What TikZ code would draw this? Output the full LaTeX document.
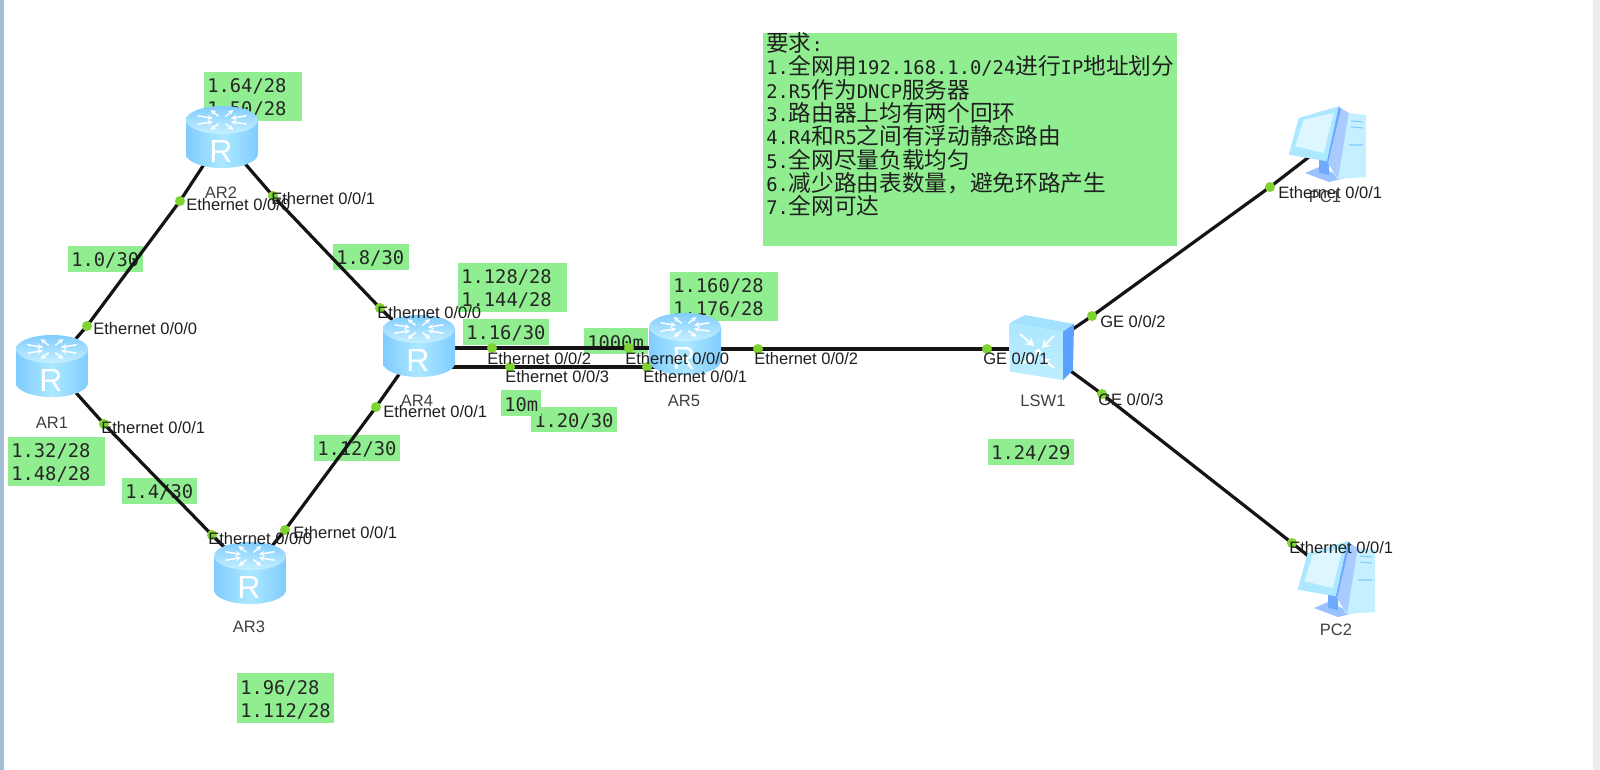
\documentclass[tikz,border=0pt]{standalone}
\usepackage{fontspec}
\usetikzlibrary{arrows.meta}
\setmainfont{Liberation Sans}
\newfontfamily\cjkf{Noto Sans CJK SC}
\newfontfamily\monof{DejaVu Sans Mono}
\newlength\pxu \setlength\pxu{0.75pt}
\definecolor{boxgreen}{HTML}{90EE90}
\definecolor{dotgreen}{HTML}{7FD332}
\definecolor{rlight}{HTML}{ACE8FF}
\definecolor{rmid}{HTML}{80CCFF}
\definecolor{rpale}{HTML}{C6F0FF}
\definecolor{pcblue}{HTML}{6FA8FF}
\definecolor{swside}{HTML}{5AA2FF}
\definecolor{leftbar}{HTML}{A3BFD8}
\pgfdeclarelayer{ground}
\pgfdeclarelayer{boxes}
\pgfdeclarelayer{links}
\pgfdeclarelayer{labels}
\pgfsetlayers{ground,boxes,links,main,labels}
% name, x, y
\newcommand\routerdev[3]{%
  \node[deviceanchor] (#1) at (#2,#3) {};
  \begin{scope}[shift={(#1.center)}]
    \path[left color=rmid,right color=rmid,middle color=rlight]
      (-36,-17) -- (-36,17) arc[start angle=180,end angle=0,x radius=36,y radius=14] -- (36,-17) -- cycle;
    \path[top color=rmid,bottom color=rpale]
      (0,-17) ellipse[x radius=36,y radius=14];
    \foreach \a in {25,155,205,335}
      \draw[white,line width=1.1pt,{Stealth[length=4pt,width=4pt]}-]
        ({cos(\a)*10},{-17+sin(\a)*4}) -- ({cos(\a)*27},{-17+sin(\a)*10});
    \foreach \a in {65,115,245,295}
      \draw[white,line width=1.1pt,-{Stealth[length=4pt,width=4pt]}]
        ({cos(\a)*8},{-17+sin(\a)*4}) -- ({cos(\a)*27},{-17+sin(\a)*11});
    \node[routerletter] (#1r) at (-1,14) {R};
  \end{scope}}
\newcommand\switchdev[3]{%
  \node[deviceanchor] (#1) at (#2,#3) {};
  \begin{scope}[shift={(#1.center)}]
    \fill[rlight!80!rmid] (-32.7,-26.7) -- (-17,-35) -- (32,-26) -- (21,-18.3) -- cycle;
    \path[top color=rlight,bottom color=rpale!70!rlight] (-32.7,-26.7) -- (21,-18.3) -- (21,30) -- (-32,21.7) -- cycle;
    \fill[swside] (21,-18.3) -- (32,-26) -- (31,20) -- (21,30) -- cycle;
    \foreach \x/\y/\tx/\ty in {-22/-16/-8/-4, 12/-14/0/-2, -20/14/-8/6, 12/18/0/8}
      \draw[white,line width=1.5pt,-{Stealth[length=6pt,width=7pt]}] (\x,\y) -- (\tx,\ty);
    \fill[white] (-4,2) circle[radius=3];
  \end{scope}}
\newcommand\pcdev[3]{%
  \node[deviceanchor] (#1) at (#2,#3) {};
  \begin{scope}[shift={(#1.center)}]
    \fill[pcblue!70!white] (-22,30) -- (-8,24) -- (18,35) -- (2,39) -- cycle;
    \fill[pcblue] (-8,15) -- (2,15) -- (2,32) -- (-8,30) -- cycle;
    \fill[rpale] (21.7,-30) -- (39,-28) -- (39,34) -- (10,36) -- (0,18) -- cycle;
    \fill[pcblue!60!white] (12,-36) -- (21.7,-30) -- (11,36) -- (0,18) -- cycle;
    \draw[rmid,line width=0.8pt] (24,-22) -- (36,-21) (24,-16) -- (36,-15) (22,2) -- (36,2);
    \fill[rlight] (-28.3,-25) -- (11.7,-36.7) -- (0,18.3) -- (-38.3,11.7) -- cycle;
    \fill[pcblue] (11.7,-36.7) -- (14,-34) -- (1,20) -- (0,18.3) -- cycle;
    \fill[rpale!60!white] (-23.3,-23.3) -- (6.7,-30) -- (-3.3,10) -- (-31.7,3.3) -- cycle;
  \end{scope}}
\tikzset{
  deviceanchor/.style={rectangle,inner sep=0pt,minimum size=1pt},
  routerletter/.style={inner sep=0pt,text=white,font=\fontsize{24}{24}\selectfont},
  link/.style={draw=black!92,line width=2.4pt,line join=round},
  ipbox/.style 2 args={rectangle,fill=boxgreen,anchor=north west,align=left,inner ysep=0pt,inner xsep=3\pxu,
    text width=#1\pxu,minimum height=#2\pxu,text=black!85,font=\monof\fontsize{14.1}{17.5}\selectfont,
    execute at begin node={\vskip-5pt\relax},execute at end node={\par\vskip5pt\relax}},
  noticebox/.style={rectangle,fill=boxgreen,anchor=north west,align=left,inner ysep=0pt,inner xsep=3\pxu,
    text width=408\pxu,minimum height=213\pxu,text=black!88,font=\monof\fontsize{14.1}{17.5}\selectfont,
    execute at begin node={\vskip-10pt\relax}},
  portdot/.style={circle,fill=dotgreen,inner sep=0pt,minimum size=10\pxu},
  portlabel/.style={anchor=west,inner sep=0pt,text=black!88,font=\fontsize{12.4}{14}\selectfont},
  devlabel/.style={anchor=center,inner sep=0pt,text=black!75,font=\fontsize{12.4}{14}\selectfont}
}
\newcommand\cj[1]{{\cjkf\fontsize{17}{17.5}\selectfont #1}}
\begin{document}
\begin{tikzpicture}[x=0.75pt,y=-0.75pt]
\useasboundingbox (0,0) rectangle (1600,770);
\begin{pgfonlayer}{ground}
\fill[white] (0,0) rectangle (1600,770);
\fill[leftbar] (0,0) rectangle (4,770);
\fill[black!7] (1593,0) rectangle (1600,770);
\end{pgfonlayer}

% devices
\routerdev{ar1}{52}{366}
\routerdev{ar2}{222}{137}
\routerdev{ar3}{250}{573}
\routerdev{ar4}{419}{346}
\routerdev{ar5}{685}{344}
\switchdev{lsw}{1042}{350}
\pcdev{pc1}{1327}{143}
\pcdev{pc2}{1336}{578}

% green boxes
\begin{pgfonlayer}{boxes}
\node[ipbox={92}{49}] (b1) at (204,72) {1.64/28\\1.50/28};
\node[ipbox={69}{26}] (b2) at (68,246) {1.0/30};
\node[ipbox={70}{26}] (b3) at (333,244) {1.8/30};
\node[ipbox={103}{49}] (b4) at (458,263) {1.128/28\\1.144/28};
\node[ipbox={80}{26}] (b5) at (463,319) {1.16/30};
\node[ipbox={58}{26}] (b6) at (584,328) {1000m};
\node[ipbox={102}{49}] (b7) at (670,272) {1.160/28\\1.176/28};
\node[ipbox={80}{25}] (b8) at (531,407) {1.20/30};
\node[ipbox={34}{26}] (b9) at (501,390) {10m};
\node[ipbox={91}{49}] (b10) at (8,437) {1.32/28\\1.48/28};
\node[ipbox={69}{26}] (b11) at (122,478) {1.4/30};
\node[ipbox={80}{26}] (b12) at (314,435) {1.12/30};
\node[ipbox={91}{50}] (b13) at (237,673) {1.96/28\\1.112/28};
\node[ipbox={80}{26}] (b14) at (988,439) {1.24/29};
\node[noticebox] (notice) at (763,33) {\cj{要求}:\\
1.\cj{全网用}192.168.1.0/24\cj{进行}IP\cj{地址划分}\\
2.R5\cj{作为}DNCP\cj{服务器}\\
3.\cj{路由器上均有两个回环}\\
4.R4\cj{和}R5\cj{之间有浮动静态路由}\\
5.\cj{全网尽量负载均匀}\\
6.\cj{减少路由表数量\symbol{"FF0C}避免环路产生}\\
7.\cj{全网可达}\\
~};
\end{pgfonlayer}

% port dots and labels
\begin{pgfonlayer}{labels}
\node[devlabel] (lar1) at (52,423) {AR1};
\node[devlabel] (lar2) at (221,193) {AR2};
\node[devlabel] (lar3) at (249,627) {AR3};
\node[devlabel] (lar4) at (417,401) {AR4};
\node[devlabel] (lar5) at (684,401) {AR5};
\node[devlabel] (llsw) at (1043,401) {LSW1};
\node[devlabel] (lpc1) at (1325,197) {PC1};
\node[devlabel] (lpc2) at (1336,630) {PC2};

\node[portdot] (p1a) at (87,326) {};
\node[portdot] (p1b) at (104,424) {};
\node[portdot] (p2a) at (180,201) {};
\node[portdot] (p2b) at (273,196) {};
\node[portdot] (p3a) at (212,535) {};
\node[portdot] (p3b) at (285,530) {};
\node[portdot] (p4a) at (380,308) {};
\node[portdot] (p4b) at (376,407) {};
\node[portdot] (p4c) at (492,348) {};
\node[portdot] (p4d) at (510,367) {};
\node[portdot] (p5a) at (629,348) {};
\node[portdot] (p5b) at (647,367) {};
\node[portdot] (p5c) at (758,349) {};
\node[portdot] (s1) at (987,349) {};
\node[portdot] (s2) at (1092,316) {};
\node[portdot] (s3) at (1102,394) {};
\node[portdot] (p6) at (1270,187) {};
\node[portdot] (p7) at (1292,543) {};

\node[portlabel] (t1a) at (93,329) {Ethernet 0/0/0};
\node[portlabel] (t1b) at (101,428) {Ethernet 0/0/1};
\node[portlabel] (t2a) at (186,205) {Ethernet 0/0/0};
\node[portlabel] (t2b) at (271,199) {Ethernet 0/0/1};
\node[portlabel] (t3a) at (208,539) {Ethernet 0/0/0};
\node[portlabel] (t3b) at (293,533) {Ethernet 0/0/1};
\node[portlabel] (t4a) at (377,313) {Ethernet 0/0/0};
\node[portlabel] (t4b) at (383,412) {Ethernet 0/0/1};
\node[portlabel] (t4c) at (487,359) {Ethernet 0/0/2};
\node[portlabel] (t4d) at (505,377) {Ethernet 0/0/3};
\node[portlabel] (t5a) at (625,359) {Ethernet 0/0/0};
\node[portlabel] (t5b) at (643,377) {Ethernet 0/0/1};
\node[portlabel] (t5c) at (754,359) {Ethernet 0/0/2};
\node[portlabel] (ts1) at (983,359) {GE 0/0/1};
\node[portlabel] (ts2) at (1100,322) {GE 0/0/2};
\node[portlabel] (ts3) at (1098,400) {GE 0/0/3};
\node[portlabel] (t6) at (1278,193) {Ethernet 0/0/1};
\node[portlabel] (t7) at (1289,548) {Ethernet 0/0/1};
\end{pgfonlayer}

% links, each passing through its two port dots
\begin{pgfonlayer}{links}
\draw[link] (ar1.center) -- (p1a.center) -- (p2a.center) -- (ar2.center);
\draw[link] (ar2.center) -- (p2b.center) -- (p4a.center) -- (ar4.center);
\draw[link] (ar1.center) -- (p1b.center) -- (p3a.center) -- (ar3.center);
\draw[link] (ar3.center) -- (p3b.center) -- (p4b.center) -- (ar4.center);
\draw[link] (ar4 |- p4c) -- (ar5 |- p5a);
\draw[link] (ar4 |- p4d) -- (ar5 |- p5b);
\draw[link] (ar5 |- p5c) -- (lsw |- s1);
\draw[link] (lsw.center) -- (s2.center) -- (p6.center) -- (pc1.center);
\draw[link] (lsw.center) -- (s3.center) -- (p7.center) -- (pc2.center);
\end{pgfonlayer}
\end{tikzpicture}
\end{document}
